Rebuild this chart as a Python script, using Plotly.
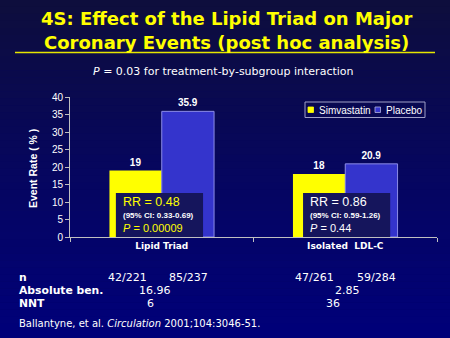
import plotly.graph_objects as go

# ---- data ----
categories = ["Lipid Triad", "Isolated  LDL-C"]
series_names = ["Simvastatin", "Placebo"]
simvastatin = [19, 18]
placebo = [35.9, 20.9]
simva_labels = ["19", "18"]
placebo_labels = ["35.9", "20.9"]
rr_text = ["RR = 0.48", "RR = 0.86"]
ci_text = ["(95% CI: 0.33-0.69)", "(95% CI: 0.59-1.26)"]
p_text = ["<i>P</i> = 0.00009", "<i>P</i> = 0.44"]
n_values = ["42/221", "85/237", "47/261", "59/284"]
abs_benefit = ["16.96", "2.85"]
nnt = ["6", "36"]
y_ticks = [0, 5, 10, 15, 20, 25, 30, 35, 40]

W, H = 450, 338
L, R, T, B = 70, 437, 97, 237  # plot area in pixels
YEL = "#FFFF00"
BLU = "#3434CC"


def px(x):
    return (x - L) / (R - L)


def py(y):
    return (B - y) / (B - T)


def lerp(c1, c2, t):
    return "rgb(%d,%d,%d)" % tuple(round(a + (b - a) * t) for a, b in zip(c1, c2))


lab_font = dict(family="Liberation Sans", size=10, color="white", weight="bold")
fig = go.Figure()
fig.add_trace(go.Bar(
    x=categories, y=simvastatin, name=series_names[0],
    marker=dict(color=YEL, line=dict(width=0)),
    text=simva_labels, textposition="outside", cliponaxis=False, textfont=lab_font,
))
fig.add_trace(go.Bar(
    x=categories, y=placebo, name=series_names[1],
    marker=dict(color=BLU, line=dict(width=1, color="#8C8CE6")),
    text=placebo_labels, textposition="outside", cliponaxis=False, textfont=lab_font,
))

shapes = []
# gradient background
top_c, mid_c, bot_c = (14, 14, 60), (6, 6, 94), (0, 0, 122)
N = 48
for i in range(N):
    y0 = i * H / N
    y1 = (i + 1) * H / N
    t = (y0 + y1) / 2 / H
    c = lerp(top_c, mid_c, t * 2) if t < 0.5 else lerp(mid_c, bot_c, (t - 0.5) * 2)
    shapes.append(dict(type="rect", xref="paper", yref="paper",
                       x0=px(0), x1=px(W), y0=py(y1), y1=py(y0) + 0.002,
                       fillcolor=c, line=dict(width=0), layer="below"))
# title underline
shapes.append(dict(type="line", xref="paper", yref="paper",
                   x0=px(15), x1=px(435), y0=py(52.5), y1=py(52.5),
                   line=dict(color="#E6E600", width=1.5)))
# RR boxes
box_x = [(-0.25, 0.225), (-0.23, 0.245)]
for i, (a, b) in enumerate(box_x):
    shapes.append(dict(type="rect", xref="x", yref="y", x0=i + a, x1=i + b,
                       y0=0, y1=12.6, fillcolor="#15155C",
                       line=dict(width=0), layer="above"))
# manual legend
shapes.append(dict(type="rect", xref="paper", yref="paper",
                   x0=px(305), x1=px(425), y0=py(117.5), y1=py(102),
                   fillcolor="rgba(0,0,0,0)", line=dict(color="#A0A0C8", width=1)))
for sx, col in zip([308, 375], [YEL, BLU]):
    shapes.append(dict(type="rect", xref="paper", yref="paper",
                       x0=px(sx), x1=px(sx + 5.5), y0=py(112.5), y1=py(107),
                       fillcolor=col, line=dict(color="#B0B0E0" if col == BLU else col, width=0.8)))

ann = []
tt_font = dict(family="DejaVu Sans", size=18, color="#FFFF00", weight="bold")
ann.append(dict(text="4S: Effect of the Lipid Triad on Major", x=px(226), y=py(18), font=tt_font))
ann.append(dict(text="Coronary Events (post hoc analysis)", x=px(226), y=py(42), font=tt_font))
ann.append(dict(text="<i>P</i> = 0.03 for treatment-by-subgroup interaction", x=px(223), y=py(71),
                font=dict(family="DejaVu Sans", size=11, color="white")))
ann.append(dict(text="Event Rate ( % )", x=px(33), y=py(169), textangle=-90,
                font=dict(family="Liberation Sans", size=10.5, color="white", weight="bold")))
for nm, tx in zip(series_names, [316.5, 383.5]):
    ann.append(dict(text=nm, x=px(tx), y=py(110), xanchor="left",
                    font=dict(family="Liberation Sans", size=10, color="white")))

text_x = [121, 308]
rr_colors = [YEL, "white"]
for i in range(2):
    ann.append(dict(text=rr_text[i], x=px(text_x[i]), y=py(202), xanchor="left",
                    font=dict(family="Liberation Sans", size=12.5, color=rr_colors[i])))
    ann.append(dict(text=ci_text[i], x=px(text_x[i]), y=py(215), xanchor="left",
                    font=dict(family="Liberation Sans", size=8, color="white", weight="bold")))
    ann.append(dict(text=p_text[i], x=px(text_x[i]), y=py(228), xanchor="left",
                    font=dict(family="Liberation Sans", size=11, color=rr_colors[i])))

row_labels = ["n", "Absolute ben.", "NNT"]
row_y = [277, 290, 303]
tfont = dict(family="DejaVu Sans", size=11, color="white")
for lab, yy in zip(row_labels, row_y):
    ann.append(dict(text=lab, x=px(17), y=py(yy), xanchor="left",
                    font=dict(family="DejaVu Sans", size=10.8, color="white", weight="bold")))
for v, xx in zip(n_values, [127, 188, 314, 376]):
    ann.append(dict(text=v, x=px(xx), y=py(277), font=tfont))
for v, xx in zip(abs_benefit, [155, 347]):
    ann.append(dict(text=v, x=px(xx), y=py(290), font=tfont))
for v, xx in zip(nnt, [150, 333]):
    ann.append(dict(text=v, x=px(xx), y=py(303), font=tfont))
ann.append(dict(text="Ballantyne, et al. <i>Circulation</i> 2001;104:3046-51.", x=px(17), y=py(323),
                xanchor="left", font=dict(family="DejaVu Sans", size=10, color="white")))

for a in ann:
    a.setdefault("xref", "paper")
    a.setdefault("yref", "paper")
    a.setdefault("showarrow", False)
    a.setdefault("xanchor", "center")
    a.setdefault("yanchor", "middle")

fig.update_layout(
    width=W, height=H,
    margin=dict(l=L, r=W - R, t=T, b=H - B, pad=0),
    paper_bgcolor="#06065e", plot_bgcolor="rgba(0,0,0,0)",
    barmode="group", bargap=0.43, bargroupgap=0,
    shapes=shapes, annotations=ann,
    showlegend=False,
    xaxis=dict(showline=True, linecolor="#C0C0C0", linewidth=1, ticks="outside",
               tickson="boundaries", ticklen=4, tickcolor="#C0C0C0",
               tickfont=dict(family="DejaVu Sans", size=9, color="white", weight="bold"),
               showgrid=False, zeroline=False),
    yaxis=dict(range=[0, 40], tickvals=y_ticks, showline=True, linecolor="#C0C0C0",
               linewidth=1, ticks="outside", ticklen=4, tickcolor="#C0C0C0",
               tickfont=dict(family="Liberation Sans", size=10, color="white"),
               showgrid=False, zeroline=False),
)
fig.write_html("out.html")
